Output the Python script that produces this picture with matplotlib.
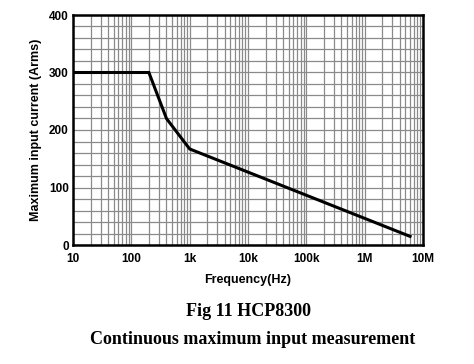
import matplotlib
matplotlib.use("Agg")
import matplotlib.pyplot as plt
from matplotlib.ticker import FixedLocator, LogLocator, MultipleLocator, NullFormatter

freq_hz = [10, 200, 400, 1000, 6e6]
current_arms = [300, 300, 220, 167, 15]
xtick_vals = [10, 100, 1e3, 1e4, 1e5, 1e6, 1e7]
xtick_labels = ["10", "100", "1k", "10k", "100k", "1M", "10M"]
ytick_vals = [0, 100, 200, 300, 400]

fig = plt.figure(figsize=(4.74, 3.64), dpi=100)
ax = fig.add_axes([73/474, 1-245/364, 350/474, 230/364])
ax.plot(freq_hz, current_arms, color="black", lw=2.2, solid_joinstyle="miter", zorder=3)
ax.set_xscale("log")
ax.set_xlim(10, 1e7)
ax.set_ylim(0, 400)
ax.xaxis.set_major_locator(FixedLocator(xtick_vals))
ax.set_xticklabels(xtick_labels)
ax.xaxis.set_minor_locator(LogLocator(base=10, subs=range(2, 10), numticks=20))
ax.xaxis.set_minor_formatter(NullFormatter())
ax.yaxis.set_major_locator(FixedLocator(ytick_vals))
ax.yaxis.set_minor_locator(MultipleLocator(20))
ax.grid(True, which="both", color="#8a8a8a", lw=0.9)
ax.tick_params(which="both", length=0)
ax.tick_params(axis="x", pad=6)
ax.tick_params(axis="y", pad=3)
for lab in ax.get_xticklabels() + ax.get_yticklabels():
    lab.set_fontfamily("Liberation Sans")
    lab.set_fontweight("bold")
    lab.set_fontsize(8.5)
for s in ax.spines.values():
    s.set_linewidth(1.8)
    s.set_color("black")
ax.set_ylabel("Maximum input current (Arms)", fontfamily="Liberation Sans",
              fontweight="bold", fontsize=9, labelpad=5)
ax.set_xlabel("Frequency(Hz)", fontfamily="Liberation Sans", fontweight="bold",
              fontsize=9, labelpad=6)
fig.text(0.525, 1-312/364, "Fig 11 HCP8300", ha="center", va="center",
         fontfamily="Liberation Serif", fontweight="bold", fontsize=13)
fig.text(0.532, 1-340/364, "Continuous maximum input measurement", ha="center", va="center",
         fontfamily="Liberation Serif", fontweight="bold", fontsize=13)
fig.savefig("out.png", dpi=100)
